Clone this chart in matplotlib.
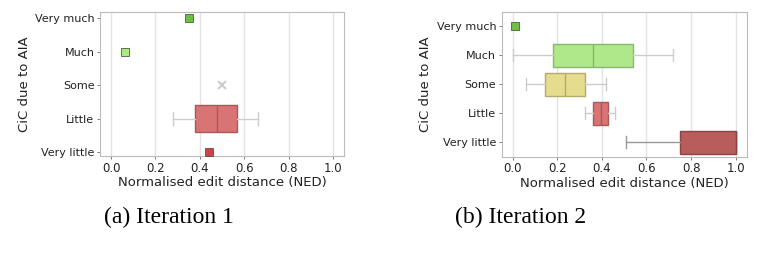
import matplotlib
matplotlib.use("Agg")
import matplotlib.pyplot as plt

categories = ["Very much", "Much", "Some", "Little", "Very little"]
colors = ["#6dbf45", "#aee88a", "#e6dc8e", "#d87474", "#b95c5c"]
edges = ["#4f8a33", "#86b96a", "#b3aa6c", "#a85858", "#8a4444"]

# iteration 1: (whislo, q1, med, q3, whishi), single values as points
it1_boxes = {3: (0.28, 0.377, 0.477, 0.567, 0.661)}
it1_points = {0: 0.35, 1: 0.063, 4: 0.44}
it1_cross = {2: 0.50}
it1_point_colors = {0: "#6dbf45", 1: "#a8ec7a", 4: "#cc4444"}

# iteration 2
it2_boxes = {
    1: (0.0, 0.179, 0.36, 0.538, 0.72),
    2: (0.059, 0.146, 0.236, 0.322, 0.417),
    3: (0.325, 0.359, 0.394, 0.426, 0.459),
    4: (0.507, 0.75, 1.0, 1.0, 1.0),
}
it2_points = {0: 0.01}
it2_point_colors = {0: "#6dbf45"}

xticks = [0.0, 0.2, 0.4, 0.6, 0.8, 1.0]

fig = plt.figure(figsize=(7.65, 2.57), dpi=100)
ax1 = fig.add_axes([0.1307, 0.393, 0.319, 0.5615])
ax2 = fig.add_axes([0.6558, 0.390, 0.3203, 0.5645])


def draw(ax, boxes, points, point_colors, ylim, cross=None):
    for i, (lo, q1, med, q3, hi) in boxes.items():
        st = dict(whislo=lo, q1=q1, med=med, q3=q3, whishi=hi, fliers=[])
        whc = "#999999" if i == 4 else "#cccccc"
        ax.bxp([st], positions=[i], vert=False, widths=0.8, patch_artist=True,
               showfliers=False,
               boxprops=dict(facecolor=colors[i], edgecolor=edges[i], linewidth=1),
               medianprops=dict(color=edges[i], linewidth=1),
               whiskerprops=dict(color=whc, linewidth=1),
               capprops=dict(color=whc, linewidth=1))
    for i, v in points.items():
        ax.plot(v, i, marker="s", markersize=6.2, color=point_colors[i],
                markeredgecolor="#555555", markeredgewidth=0.6, zorder=3)
    if cross:
        for i, v in cross.items():
            ax.plot(v, i, marker="x", markersize=6, color="#cccccc",
                    markeredgewidth=1.5, zorder=3)
    ax.set_xlim(-0.05, 1.05)
    ax.set_ylim(*ylim)
    ax.set_yticks(range(len(categories)))
    ax.set_yticklabels(categories)
    ax.set_xticks(xticks)
    ax.set_xticklabels([f"{t:.1f}" for t in xticks])
    ax.grid(axis="x", color="#e3e3e3", linewidth=1)
    ax.set_axisbelow(True)
    for s in ax.spines.values():
        s.set_color("#bbbbbb")
    ax.tick_params(labelsize=8, color="#666666", length=2.5, width=0.6,
                   colors="#222222", pad=1.5)
    ax.tick_params(axis="x", labelsize=8.5)
    ax.set_xlabel("Normalised edit distance (NED)", fontsize=9.5, color="#222222", labelpad=1)
    ax.set_ylabel("CiC due to AIA", fontsize=9.5, color="#222222", labelpad=3)


draw(ax1, it1_boxes, it1_points, it1_point_colors, (4.12, -0.2), it1_cross)
draw(ax2, it2_boxes, it2_points, it2_point_colors, (4.5, -0.5))

fig.text(0.221, 0.155, "(a) Iteration 1", family="Liberation Serif", fontsize=17,
         ha="center", va="center")
fig.text(0.68, 0.155, "(b) Iteration 2", family="Liberation Serif", fontsize=17,
         ha="center", va="center")

fig.savefig("out.png", dpi=100)
